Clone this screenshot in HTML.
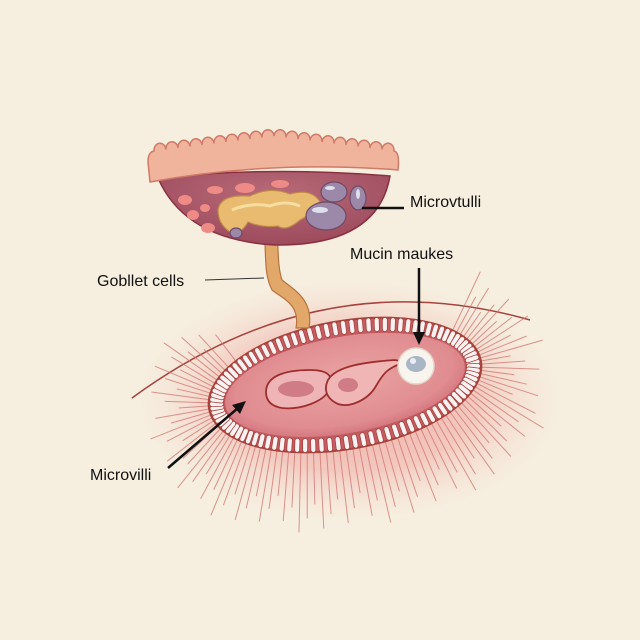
<!DOCTYPE html>
<html><head><meta charset="utf-8"><style>
html,body{margin:0;padding:0;background:#f6efe0;}
svg{display:block}
text{font-family:"Liberation Sans",sans-serif;fill:#111;}
</style></head><body>
<svg id="s" width="640" height="640" viewBox="0 0 640 640" xmlns="http://www.w3.org/2000/svg">
<defs>
<radialGradient id="glow" cx="0.5" cy="0.5" r="0.5">
<stop offset="0" stop-color="#eea9a4"/><stop offset="0.55" stop-color="#f3c9bf"/><stop offset="1" stop-color="#f6efe0" stop-opacity="0"/>
</radialGradient>
<radialGradient id="inner" cx="0.5" cy="0.45" r="0.6">
<stop offset="0" stop-color="#eaa4a4"/><stop offset="0.75" stop-color="#e08c90"/><stop offset="1" stop-color="#cc6c74"/>
</radialGradient>
<radialGradient id="bowl" cx="0.5" cy="0.3" r="0.7">
<stop offset="0" stop-color="#b86a78"/><stop offset="1" stop-color="#9c4a5c"/>
</radialGradient>
</defs>
<rect width="640" height="640" fill="#f6efe0"/>
<ellipse cx="350" cy="400" rx="230" ry="130" fill="url(#glow)"/>
<path d="M132 398 Q320 260 530 320" fill="none" stroke="#a8423c" stroke-width="1.5"/>
<g id="rays" stroke="#d0746e" stroke-width="1" opacity="0.75"></g>
<g transform="rotate(-10 345 385)">
<ellipse cx="345" cy="385" rx="138" ry="64" fill="#c45c64" stroke="#a8423c" stroke-width="2"/>
<g id="teeth"></g>
<ellipse cx="345" cy="385" rx="122" ry="49" fill="url(#inner)" stroke="#c0585e" stroke-width="1.2"/>
</g>
<path d="M266 392 C266 376 285 370 310 370 C328 370 334 376 330 388 C325 402 300 410 282 408 C270 406 266 400 266 392Z" fill="#eeb4b6" stroke="#9e2e2e" stroke-width="1.8"/>
<ellipse cx="296" cy="389" rx="18" ry="8" fill="#cf7c86"/>
<path d="M328 380 C336 366 365 362 395 360 L405 362 C388 368 384 372 376 386 C368 400 350 408 338 404 C325 398 324 388 328 380Z" fill="#f0b6b6" stroke="#9e2e2e" stroke-width="1.8"/>
<ellipse cx="348" cy="385" rx="10" ry="7" fill="#d07c86"/>
<circle cx="416" cy="366" r="18" fill="#f8f4ee" stroke="#e2d6c8" stroke-width="1.5"/>
<ellipse cx="416" cy="364" rx="10" ry="8" fill="#a9b6c6"/>
<circle cx="413" cy="361" r="3" fill="#e8eef4"/>
<path d="M262 212 C268 250 262 270 272 290 C285 300 300 305 296 328 L309 328 C314 300 294 290 282 280 C276 262 280 240 274 212Z" fill="#e2a86a" stroke="#b87240" stroke-width="1.2"/>
<path d="M158 178 Q270 166 390 176 Q378 246 275 245 Q185 240 158 178Z" fill="url(#bowl)" stroke="#8a3040" stroke-width="1.5"/>
<path d="M150 182 L148 162 Q148 152 154 151 a6 7 0 0 1 12 -1.5 a6 7 0 0 1 12 -1.5 a6 7 0 0 1 12 -1.5 a6 7 0 0 1 12 -1.5 a6 7 0 0 1 12 -1.5 a6 7 0 0 1 12 -1.5 a6 7 0 0 1 12 -1.5 a6 7 0 0 1 12 -1.5 a6 7 0 0 1 12 -1.5 a6 7 0 0 1 12 -1.5 a6 7 0 0 1 12 1.5 a6 7 0 0 1 12 1.5 a6 7 0 0 1 12 1.5 a6 7 0 0 1 12 1.5 a6 7 0 0 1 12 1.5 a6 7 0 0 1 12 1.5 a6 7 0 0 1 12 1.5 a6 7 0 0 1 12 1.5 a6 7 0 0 1 12 1.5 a6 7 0 0 1 12 1.5 Q400 152 398 170 Q270 160 150 182Z" fill="#f0b39c" stroke="#d07a68" stroke-width="1.5"/>
<g id="fringe" stroke="#d0826e" stroke-width="1"></g>
<g fill="#ef8b86">
<ellipse cx="185" cy="200" rx="7" ry="5"/><ellipse cx="193" cy="215" rx="6" ry="5"/><ellipse cx="208" cy="228" rx="7" ry="5"/>
<ellipse cx="215" cy="190" rx="8" ry="4"/><ellipse cx="245" cy="188" rx="10" ry="5"/><ellipse cx="280" cy="184" rx="9" ry="4"/><ellipse cx="205" cy="208" rx="5" ry="4"/>
</g>
<path d="M218 210 Q220 194 250 196 Q270 186 290 194 Q312 188 320 202 Q312 214 300 220 Q286 232 278 226 Q262 228 248 222 Q240 236 230 232 Q218 224 218 210Z" fill="#e8bb70" stroke="#c08a48" stroke-width="1.2"/>
<path d="M232 210 Q250 202 270 206 Q285 200 300 206" fill="none" stroke="#f6dea0" stroke-width="3"/>
<g stroke="#6e4a66" stroke-width="1.2" fill="#9c88a8">
<ellipse cx="326" cy="216" rx="20" ry="14"/>
<ellipse cx="334" cy="192" rx="13" ry="10"/>
<ellipse cx="358" cy="198" rx="8" ry="12"/>
<ellipse cx="236" cy="233" rx="6" ry="5"/>
</g>
<g fill="#dfe0ee"><ellipse cx="320" cy="210" rx="8" ry="3"/><ellipse cx="330" cy="188" rx="5" ry="2"/><ellipse cx="358" cy="194" rx="2" ry="5"/></g>
<line x1="362" y1="208" x2="404" y2="208" stroke="#111" stroke-width="2.5"/>
<text x="410" y="207" font-size="16">Microvtulli</text>
<text x="350" y="259" font-size="16">Mucin maukes</text>
<line x1="419" y1="268" x2="419" y2="335" stroke="#111" stroke-width="2.5"/>
<path d="M413 332 L419 345 L425 332Z" fill="#111"/>
<text x="97" y="286" font-size="16">Gobllet cells</text>
<line x1="205" y1="280" x2="264" y2="278" stroke="#333" stroke-width="1"/>
<text x="90" y="480" font-size="16">Microvilli</text>
<line x1="168" y1="468" x2="238" y2="408" stroke="#111" stroke-width="2.5"/>
<path d="M232 405 L246 401 L240 414Z" fill="#111"/>
</svg>
<script>
var NS="http://www.w3.org/2000/svg";
function el(p,t,a){var e=document.createElementNS(NS,t);for(var k in a)e.setAttribute(k,a[k]);p.appendChild(e);return e;}
var r=document.getElementById('rays'),cx=345,cy=385,th=-10*Math.PI/180,A=138,B=64;
function R(px,py){return [cx+px*Math.cos(th)-py*Math.sin(th),cy+px*Math.sin(th)+py*Math.cos(th)];}
for(var i=0;i<130;i++){var a=i/130*2*Math.PI;var x=A*Math.cos(a),y=B*Math.sin(a);
var nx=Math.cos(a)/A,ny=Math.sin(a)/B,nl=Math.hypot(nx,ny);nx/=nl;ny/=nl;
var len=30+((i*37)%11)*3.5;if(Math.sin(a)>0.3)len+=15;
var p1=R(x,y),p2=R(x+nx*len,y+ny*len);
if(p2[1]<320-(p2[0]-300)*0.05 && p2[0]<470)continue;
el(r,'line',{x1:p1[0],y1:p1[1],x2:p2[0],y2:p2[1]});}
var t=document.getElementById('teeth');
for(var i=0;i<96;i++){var a=i/96*2*Math.PI;var x=cx+130*Math.cos(a),y=cy+57*Math.sin(a);
var g=Math.atan2(Math.sin(a)/57,Math.cos(a)/130)*180/Math.PI;
el(t,'rect',{x:x-2.5,y:y-7,width:5,height:14,rx:2.5,fill:'#fdf2f2',stroke:'#a8423c','stroke-width':0.8,transform:'rotate('+(g+90)+' '+x+' '+y+')'});}
var f=document.getElementById('fringe');
for(var i=1;i<20;i++){var x=154+i*12;var top=151-1.5*(i<=10?i:20-i)+3;el(f,'line',{x1:x,y1:top,x2:x,y2:top+14});}
</script>
</body></html>
